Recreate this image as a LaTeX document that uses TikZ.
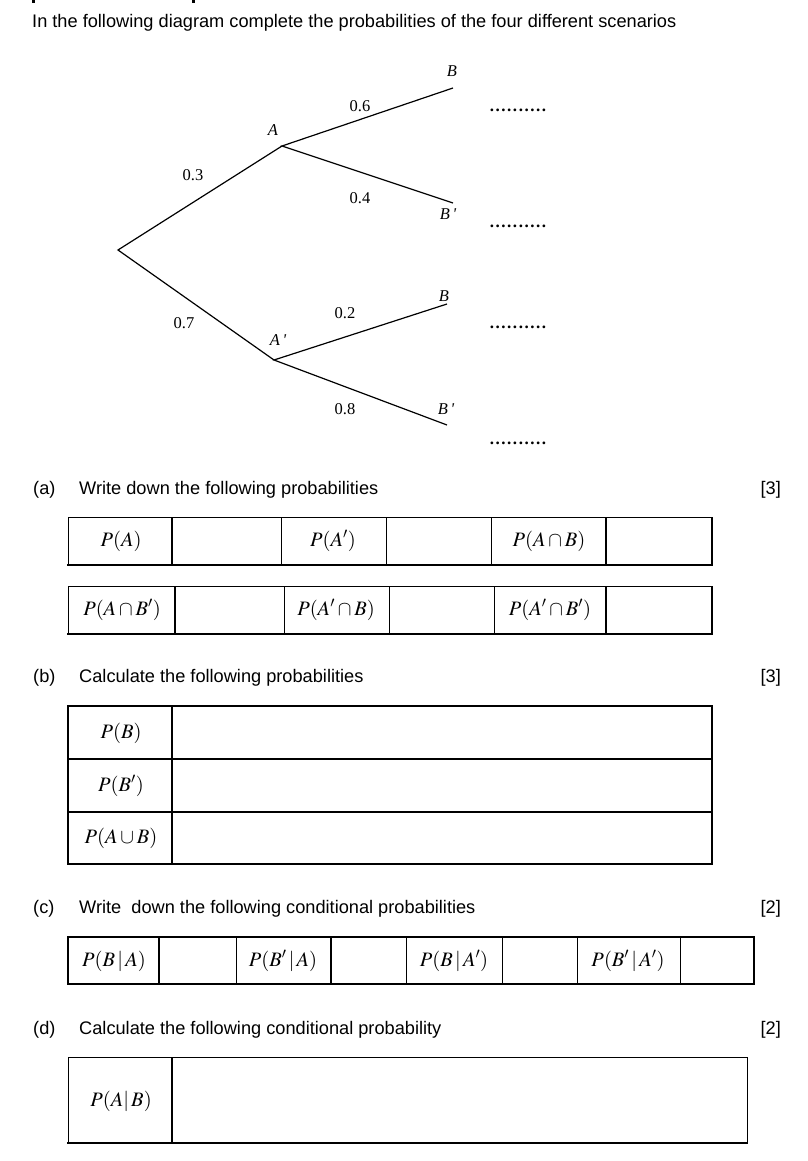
\documentclass[tikz,border=0pt]{standalone}
\usepackage{mathptmx}
\usepackage[no-math]{fontspec}
\setmainfont{Liberation Sans}
\newfontfamily\serifrm{Liberation Serif}
\newcommand{\leaderdots}{\hbox to 58pt{\xleaders\hbox to 5.8pt{\hss\bfseries.\hss}\hfill}}
\begin{document}
\begin{tikzpicture}[x=1pt,y=-1pt,
  branch/.style={line width=1.2pt},
  prob/.style={font=\serifrm\fontsize{16.5}{18}\selectfont, inner sep=1pt},
  evt/.style={font=\serifrm\itshape\fontsize{16.5}{18}\selectfont, inner sep=1pt},
  dotsn/.style={font=\serifrm\fontsize{17}{18}\selectfont, inner sep=0pt},
  head/.style={font=\fontsize{18.2}{21}\selectfont, anchor=base west, inner sep=0pt},
  scoremark/.style={font=\fontsize{18.2}{21}\selectfont, anchor=base east, inner sep=0pt},
  cell/.style={font=\fontsize{20.5}{23}\selectfont, inner sep=0pt},
  thinl/.style={line width=0.9pt},
  thickl/.style={line width=1.9pt}]
\useasboundingbox (0,0) rectangle (807,1161);
\fill[white] (0,0) rectangle (807,1161);
% cropped marks at the top
\fill (32,0) rectangle (35,3);
\fill (192,0) rectangle (195,3);

\node[head] (title) at (32,28) {In the following diagram complete the probabilities of the four different scenarios};

% tree
\coordinate (root) at (118,250);
\coordinate (nA) at (282,146);
\coordinate (nAc) at (274,360);
\coordinate (nAB) at (453,88);
\coordinate (nABc) at (453,203);
\coordinate (nAcB) at (447,304);
\coordinate (nAcBc) at (447,425);
\draw[branch] (nA) -- (root) -- (nAc);
\draw[branch] (nAB) -- (nA) -- (nABc);
\draw[branch] (nAcB) -- (nAc) -- (nAcBc);

\node[evt] (lA) at (273,130) {A};
\node[evt] (lAc) at (278,340) {A\,'};
\node[evt] (lB1) at (452,71) {B};
\node[evt] (lB1c) at (448,214) {B\,'};
\node[evt] (lB2) at (444,296) {B};
\node[evt] (lB2c) at (446,409) {B\,'};
\node[prob] (p03) at (193,175) {0.3};
\node[prob] (p07) at (184,323) {0.7};
\node[prob] (p06) at (360,106) {0.6};
\node[prob] (p04) at (360,198) {0.4};
\node[prob] (p02) at (345,313) {0.2};
\node[prob] (p08) at (345,409) {0.8};
\node[dotsn] (d1) at (518,110) {\leaderdots};
\node[dotsn] (d2) at (518,226) {\leaderdots};
\node[dotsn] (d3) at (518,327) {\leaderdots};
\node[dotsn] (d4) at (518,443) {\leaderdots};

% (a)
\node[head] (ha) at (33,494) {(a)};
\node[head] (ta) at (79,494) {Write down the following probabilities};
\node[scoremark] (ma) at (781,494) {[3]};

\draw[thinl] (68,565) -- (68,517) -- (712,517);
\draw[thickl] (67,565) -- (713,565);
\draw[thickl] (712,517) -- (712,565);
\draw[thickl] (172,517) -- (172,565);
\draw[thinl] (281,517) -- (281,565);
\draw[thinl] (386,517) -- (386,565);
\draw[thinl] (491,517) -- (491,565);
\draw[thickl] (606,517) -- (606,565);
\node[cell] (c1) at (121,541) {$P(A)$};
\node[cell] (c2) at (333,541) {$P(A')$};
\node[cell] (c3) at (549,541) {$P(A\cap B)$};

\draw[thinl] (68,634) -- (68,586) -- (712,586);
\draw[thickl] (67,634) -- (713,634);
\draw[thickl] (712,586) -- (712,634);
\draw[thickl] (175,586) -- (175,634);
\draw[thinl] (284,586) -- (284,634);
\draw[thinl] (389,586) -- (389,634);
\draw[thinl] (494,586) -- (494,634);
\draw[thickl] (606,586) -- (606,634);
\node[cell] (c4) at (122,610) {$P(A\cap B')$};
\node[cell] (c5) at (336,610) {$P(A'\cap B)$};
\node[cell] (c6) at (550,610) {$P(A'\cap B')$};

% (b)
\node[head] (hb) at (33,682) {(b)};
\node[head] (tb) at (79,682) {Calculate the following probabilities};
\node[scoremark] (mb) at (781,682) {[3]};
\draw[thickl] (68,706) rectangle (712,864);
\draw[thickl] (68,759) -- (712,759);
\draw[thickl] (68,812) -- (712,812);
\draw[thickl] (172,706) -- (172,864);
\node[cell] (b1) at (121,733) {$P(B)$};
\node[cell] (b2) at (121,786) {$P(B')$};
\node[cell] (b3) at (121,838) {$P(A\cup B)$};

% (c)
\node[head] (hc) at (33,913) {(c)};
\node[head] (tc) at (79,913) {Write\ \ down the following conditional probabilities};
\node[scoremark] (mc) at (781,913) {[2]};
\draw[thickl] (68,937) rectangle (754,984);
\draw[thickl] (159,937) -- (159,984);
\draw[thinl] (236,937) -- (236,984);
\draw[thickl] (331,937) -- (331,984);
\draw[thinl] (406,937) -- (406,984);
\draw[thinl] (502,937) -- (502,984);
\draw[thinl] (577,937) -- (577,984);
\draw[thinl] (680,937) -- (680,984);
\node[cell] (e1) at (114,961) {$P(B\,|\,A)$};
\node[cell] (e2) at (283,961) {$P(B'\,|\,A)$};
\node[cell] (e3) at (454,961) {$P(B\,|\,A')$};
\node[cell] (e4) at (628,961) {$P(B'\,|\,A')$};

% (d)
\node[head] (hd) at (33,1034) {(d)};
\node[head] (td) at (79,1034) {Calculate the following conditional probability};
\node[scoremark] (md) at (781,1034) {[2]};
\draw[thinl] (68,1143) -- (68,1057) -- (747,1057) -- (747,1143);
\draw[thickl] (67,1143) -- (748,1143);
\draw[thickl] (172,1057) -- (172,1143);
\node[cell] (f1) at (121,1101) {$P(A|\,B)$};
\end{tikzpicture}
\end{document}
